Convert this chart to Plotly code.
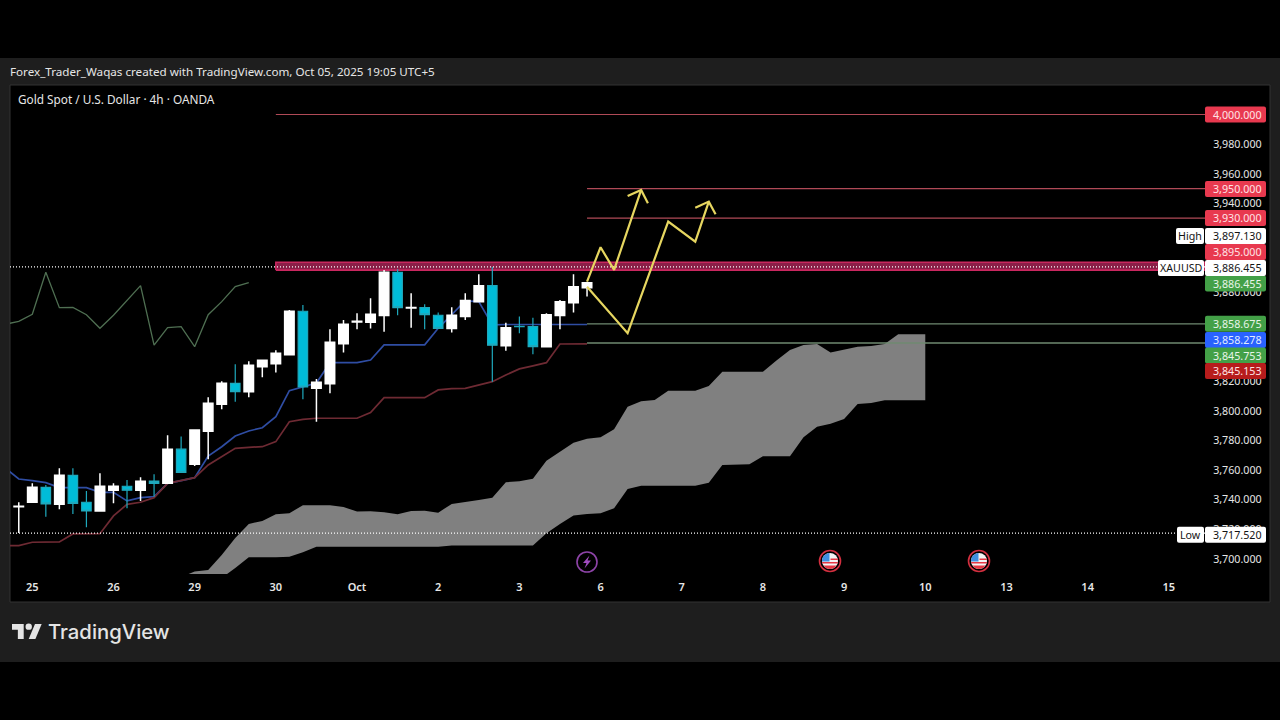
import math
import plotly.graph_objects as go

# --- Chart data -------------------------------------------------------------
bar_index = list(range(-1, 42))
opens = [3735.3, 3738.3, 3748.4, 3736.9, 3756.5, 3738.3, 3732.4, 3746.4, 3749.1, 3746.4, 3752.5,
         3751.1, 3774.1, 3763.9, 3786.2, 3804.4, 3818.6, 3812.9, 3829.8, 3831.8, 3837.9, 3867.2,
         3815.2, 3818.3, 3845.3, 3859.9, 3859.8, 3864.3, 3893.5, 3869.4, 3869.6, 3864.5, 3855.5,
         3863.6, 3873.7, 3884.5, 3844.0, 3857.0, 3856.8, 3843.3, 3864.3, 3873.0, 3883.1]
highs = [3738.3, 3751.1, 3750.0, 3761.2, 3761.2, 3745.9, 3757.9, 3751.1, 3753.3, 3755.2, 3757.2,
         3783.5, 3782.6, 3787.5, 3809.2, 3820.0, 3831.4, 3833.5, 3834.5, 3840.9, 3868.1, 3871.5,
         3821.5, 3855.1, 3861.3, 3865.9, 3876.0, 3895.1, 3895.5, 3879.4, 3871.9, 3866.3, 3869.9,
         3879.4, 3892.2, 3897.13, 3859.5, 3863.6, 3862.9, 3865.8, 3874.8, 3892.2, 3886.8]
lows = [3717.52, 3738.0, 3728.6, 3733.6, 3730.4, 3721.4, 3732.0, 3737.6, 3734.2, 3739.2, 3742.1,
        3750.8, 3758.2, 3762.8, 3767.3, 3801.1, 3806.2, 3809.2, 3822.7, 3825.8, 3837.6, 3807.8,
        3792.7, 3811.9, 3839.3, 3855.1, 3855.5, 3853.4, 3864.5, 3856.1, 3855.1, 3855.4, 3852.8,
        3861.3, 3873.4, 3819.7, 3840.6, 3852.4, 3838.2, 3843.0, 3855.1, 3866.3, 3877.1]
closes = [3735.6, 3748.4, 3737.2, 3756.5, 3737.6, 3732.4, 3749.1, 3749.1, 3746.4, 3752.5, 3751.1,
          3774.1, 3758.5, 3787.1, 3805.1, 3818.6, 3812.9, 3830.8, 3834.1, 3838.9, 3867.2, 3816.1,
          3819.3, 3846.3, 3858.4, 3860.4, 3865.2, 3893.5, 3869.6, 3869.8, 3864.9, 3855.7, 3864.5,
          3874.4, 3884.5, 3844.3, 3856.1, 3856.8, 3843.3, 3864.9, 3873.7, 3883.8, 3886.455]

line_index = list(range(-2, 42))
conversion_line = [3761.4, 3754.0, 3752.9, 3751.5, 3748.2, 3748.2, 3748.2, 3745.0, 3745.0, 3739.2, 3741.4,
                   3742.1, 3751.1, 3752.9, 3754.9, 3769.5, 3775.8, 3783.0, 3786.4, 3788.6, 3796.1, 3813.6,
                   3816.3, 3818.8, 3832.5, 3832.5, 3832.5, 3834.3, 3844.5, 3844.5, 3844.5, 3844.5, 3855.7,
                   3864.7, 3874.2, 3873.7, 3858.0, 3858.278, 3858.278, 3858.278, 3858.278, 3858.278,
                   3858.278, 3858.278]
base_line = [3709.0, 3709.0, 3711.3, 3711.3, 3711.5, 3716.9, 3716.9, 3717.1, 3729.1, 3736.9, 3738.3,
             3741.4, 3751.1, 3752.9, 3754.9, 3763.5, 3769.1, 3774.7, 3775.4, 3775.8, 3779.2, 3792.7,
             3794.3, 3795.0, 3795.0, 3795.0, 3795.0, 3798.8, 3808.9, 3808.9, 3808.9, 3808.9, 3814.1,
             3815.0, 3815.2, 3817.5, 3819.7, 3824.2, 3828.3, 3830.3, 3832.5, 3845.1, 3845.153, 3845.153]

lagging_index = list(range(-2, 17))
lagging_span = [3858.4, 3860.4, 3865.2, 3893.5, 3869.6, 3869.8, 3864.9, 3855.7, 3864.5, 3874.4,
                3884.5, 3844.3, 3856.1, 3856.8, 3843.3, 3864.9, 3873.7, 3883.8, 3886.455]

cloud_index = list(range(11, 67))
cloud_upper = [3687.9, 3691.5, 3692.6, 3702.7, 3714.2, 3723.7, 3725.7, 3730.2, 3730.9, 3736.3, 3736.3,
               3736.3, 3735.1, 3732.0, 3732.2, 3731.5, 3730.2, 3732.4, 3732.6, 3731.3, 3737.2, 3738.3,
               3739.8, 3741.4, 3751.8, 3752.5, 3754.2, 3766.4, 3772.4, 3778.5, 3781.2, 3782.2, 3787.6,
               3802.8, 3806.5, 3807.3, 3813.6, 3813.6, 3813.6, 3816.8, 3826.4, 3826.4, 3826.4, 3826.4,
               3833.9, 3841.1, 3844.5, 3845.1, 3839.3, 3841.1, 3843.3, 3843.8, 3845.1, 3851.7, 3851.7,
               3851.7]
cloud_lower = [3684.5, 3685.2, 3685.9, 3687.2, 3694.0, 3701.2, 3701.2, 3701.2, 3701.6, 3704.5, 3708.3,
               3708.3, 3708.3, 3708.3, 3708.3, 3708.3, 3708.3, 3708.3, 3708.3, 3708.3, 3709.1, 3709.1,
               3709.1, 3709.1, 3709.1, 3709.1, 3709.1, 3717.4, 3723.7, 3729.3, 3730.4, 3730.9, 3734.2,
               3747.3, 3749.5, 3749.5, 3749.5, 3749.5, 3749.5, 3751.5, 3763.5, 3763.5, 3763.9, 3769.4,
               3769.4, 3769.4, 3782.2, 3789.3, 3791.3, 3794.5, 3804.6, 3805.3, 3807.1, 3807.1, 3807.1,
               3807.1]

# Drawn projection paths and their arrow heads
path_a_index = [41, 42, 43, 45]
path_a_price = [3887.2, 3910.4, 3895.1, 3949.1]
head_a_index = [44, 45, 45.5]
head_a_price = [3945.0, 3949.1, 3940.1]
path_b_index = [41, 44, 47, 49, 50]
path_b_price = [3883.8, 3852.4, 3927.7, 3914.2, 3941.2]
head_b_index = [49, 50, 50.5]
head_b_price = [3937.1, 3941.2, 3932.7]

# Horizontal levels
target_start = [18, 41, 41]
target_levels = [4000.0, 3950.0, 3930.0]
cross_levels = [3858.675, 3845.753]
zone_start = 18
zone_low = 3895.0
zone_high = 3900.3
session_high = 3897.13
session_low = 3717.52

# Axis labels; prices hidden behind the scale tags are left out
day_ticks = list(range(0, 90, 6))
day_labels = ["25", "26", "29", "30", "Oct", "2", "3", "6", "7", "8", "9", "10", "13", "14", "15"]
price_ticks = [3700, 3720, 3740, 3760, 3780, 3800, 3820, 3880, 3940, 3960, 3980]

# Price scale tags: value, fill, text colour
tag_values = [4000.0, 3950.0, 3930.0, 3895.0, 3897.13, 3886.455, 3886.455,
              3858.675, 3858.278, 3845.753, 3845.153, 3717.52]
tag_fills = ["#e8394f", "#e8394f", "#e8394f", "#e8394f", "#ffffff", "#43a047", "#ffffff",
             "#43a047", "#2962ff", "#43a047", "#b71c1c", "#ffffff"]
tag_inks = ["#ffe3e6", "#ffe3e6", "#ffe3e6", "#ffe3e6", "#131313", "#e8f5e9", "#131313",
            "#e8f5e9", "#e3ecff", "#e8f5e9", "#ffe3e6", "#131313"]
tag_centers = [114.5, 189, 218, 252, 236, 283.5, 268, 323.7, 340, 355.5, 371, 534.7]

# --- Canvas geometry --------------------------------------------------------
W, H = 1280, 720
PLOT_L, PLOT_R, PLOT_T, PLOT_B = 10, 1205, 86, 574
BAR_X0, BAR_DX = 32.3, 13.53
PRICE_TOP_Y, PX_PER_USD = 114.5, 1.4817
FONT = "Noto Sans"


def fx(px):
    return px / W


def fy(py):
    return 1 - py / H


x_range = [(PLOT_L - BAR_X0) / BAR_DX, (PLOT_R - BAR_X0) / BAR_DX]
y_range = [4000 - (PLOT_B - PRICE_TOP_Y) / PX_PER_USD, 4000 + (PRICE_TOP_Y - PLOT_T) / PX_PER_USD]


def rect(x0, y0, x1, y1, fill, line=None, layer="below"):
    return dict(type="rect", xref="paper", yref="paper", x0=fx(x0), x1=fx(x1), y0=fy(y0), y1=fy(y1),
                fillcolor=fill, line=dict(color=line or fill, width=1 if line else 0), layer=layer)


def rounded(x0, y0, x1, y1, fill, r=2):
    p = (f"M{fx(x0 + r)},{fy(y0)} L{fx(x1 - r)},{fy(y0)} Q{fx(x1)},{fy(y0)} {fx(x1)},{fy(y0 + r)} "
         f"L{fx(x1)},{fy(y1 - r)} Q{fx(x1)},{fy(y1)} {fx(x1 - r)},{fy(y1)} "
         f"L{fx(x0 + r)},{fy(y1)} Q{fx(x0)},{fy(y1)} {fx(x0)},{fy(y1 - r)} "
         f"L{fx(x0)},{fy(y0 + r)} Q{fx(x0)},{fy(y0)} {fx(x0 + r)},{fy(y0)} Z")
    return dict(type="path", xref="paper", yref="paper", path=p, fillcolor=fill, line=dict(width=0), layer="above")


def circle(cx, cy, r, fill, line=None, width=0):
    return dict(type="circle", xref="paper", yref="paper", x0=fx(cx - r), x1=fx(cx + r), y0=fy(cy + r), y1=fy(cy - r),
                fillcolor=fill, line=dict(color=line or fill, width=width), layer="above")


def polygon(points, fill, width=0, line=None, close=True):
    p = "M" + " L".join(f"{fx(a)},{fy(b)}" for a, b in points) + (" Z" if close else "")
    return dict(type="path", xref="paper", yref="paper", path=p, fillcolor=fill,
                line=dict(color=line or fill, width=width), layer="above")


def flag_icon(cx, cy):
    """Round US flag marker used for economic events."""
    out = [circle(cx, cy, 10.5, "#000000", "#d32f3f", 1.6), circle(cx, cy, 8, "#f4f4f4")]
    r = 8
    for top, bottom in [(-2.6, -0.9), (0.9, 2.6), (4.4, 8)]:
        pts = []
        steps = 6
        for k in range(steps + 1):
            dy = top + (bottom - top) * k / steps
            pts.append((cx + math.sqrt(max(r * r - dy * dy, 0)), cy + dy))
        for k in range(steps, -1, -1):
            dy = top + (bottom - top) * k / steps
            pts.append((cx - (math.sqrt(max(r * r - dy * dy, 0)) if top > 0 else -0.5), cy + dy))
        out.append(polygon(pts, "#e53945"))
    canton = [(cx - 0.5, cy + 0.5)]
    for k in range(13):
        a = math.pi + (math.pi / 2 + 0.05) * k / 12 - 0.05
        canton.append((cx + r * math.cos(a), cy + r * math.sin(a)))
    canton.append((cx - 0.5, cy - r))
    out.append(polygon(canton, "#3f8fe0"))
    return out


# --- Traces -----------------------------------------------------------------
fig = go.Figure()

# Cloud between the two leading spans
fig.add_trace(go.Scatter(x=cloud_index + cloud_index[::-1], y=cloud_upper + cloud_lower[::-1], mode="lines",
                         fill="toself", fillcolor="#808080", line=dict(width=0), hoverinfo="skip"))
fig.add_trace(go.Scatter(x=lagging_index, y=lagging_span, mode="lines", line=dict(color="#4f6f52", width=1.3)))
fig.add_trace(go.Scatter(x=line_index, y=conversion_line, mode="lines", line=dict(color="#2f4da3", width=1.7)))
fig.add_trace(go.Scatter(x=line_index, y=base_line, mode="lines", line=dict(color="#6e2a33", width=1.7)))

# Resistance zone with its crimson frame
zone_x = [zone_start, x_range[1], x_range[1], zone_start, zone_start]
zone_y = [zone_low, zone_low, zone_high, zone_high, zone_low]
fig.add_trace(go.Scatter(x=zone_x, y=zone_y, mode="lines", fill="toself", fillcolor="#8a1f48",
                         line=dict(color="#c9275f", width=1.6)))

for start, level in zip(target_start, target_levels):
    fig.add_trace(go.Scatter(x=[start, x_range[1]], y=[level, level], mode="lines",
                             line=dict(color="#b04a57", width=1.2)))
for level in cross_levels:
    fig.add_trace(go.Scatter(x=[41, x_range[1]], y=[level, level], mode="lines",
                             line=dict(color="#6f8a70", width=1.4)))

# Price bars sit on an overlaid subplot so they cover the indicator lines
fig.add_trace(go.Candlestick(x=bar_index, open=opens, high=highs, low=lows, close=closes,
                             xaxis="x2", yaxis="y2", whiskerwidth=0,
                             increasing=dict(fillcolor="#ffffff", line=dict(color="#ffffff", width=1.5)),
                             decreasing=dict(fillcolor="#00bcd8", line=dict(color="#1fa9bd", width=1.2))))

for level in (session_high, session_low):
    fig.add_trace(go.Scatter(x=x_range, y=[level, level], mode="lines", xaxis="x2", yaxis="y2",
                             line=dict(color="#ffffff", width=1.3, dash="1px,2px")))

for xs, ys in [(path_a_index, path_a_price), (head_a_index, head_a_price),
               (path_b_index, path_b_price), (head_b_index, head_b_price)]:
    fig.add_trace(go.Scatter(x=xs, y=ys, mode="lines", xaxis="x2", yaxis="y2",
                             line=dict(color="#e6d660", width=2.2)))

# --- Frame, tags and icons --------------------------------------------------
shapes = [
    rect(0, 0, W, 58, "#000000"),
    rect(0, 662, W, H, "#000000"),
    rect(10, 85, 1270, 602, "#000000", "#333333"),
]
annotations = []


def label(x, y, text, size, color, anchor="left", weight=None, family=FONT):
    annotations.append(dict(x=fx(x), y=fy(y), xref="paper", yref="paper", text=text, showarrow=False,
                            xanchor=anchor, yanchor="middle", borderpad=0,
                            xshift=-2 if anchor == "left" else 0,
                            font=dict(family=family, size=size, color=color, weight=weight)))


for value, fill, ink, center in zip(tag_values, tag_fills, tag_inks, tag_centers):
    shapes.append(rounded(1205, center - 8, 1266, center + 8, fill))
    label(1237.5, center, f"{value:,.3f}", 10.7, ink, "center")

for name, x0, center in [("High", 1176, 236), ("XAUUSD", 1158, 268), ("Low", 1177, 534.7)]:
    shapes.append(rounded(x0, center - 8, 1204, center + 8, "#ffffff"))
    label((x0 + 1204) / 2, center, name, 10.7, "#131313", "center")

label(10.5, 71.5, "Forex_Trader_Waqas created with TradingView.com, Oct 05, 2025 19:05 UTC+5", 11.65, "#e6e6e6")
label(18.5, 99, "Gold Spot / U.S. Dollar · 4h · OANDA", 11.8, "#e6e6e6")

# Wordmark and logo in the footer
logo_x = lambda u: 12 + 0.836 * u
logo_y = lambda v: 624 + (v - 4) * 0.833
shapes.append(polygon([(logo_x(a), logo_y(b)) for a, b in
                       [(14, 22), (7, 22), (7, 11), (0, 11), (0, 4), (14, 4)]], "#e4e4e4"))
shapes.append(polygon([(logo_x(a), logo_y(b)) for a, b in
                       [(28, 22), (20, 22), (27.5, 4), (35.5, 4)]], "#e4e4e4"))
shapes.append(circle(logo_x(20), logo_y(7.2), 3.2, "#e4e4e4"))
label(49, 631, "TradingView", 20.3, "#e4e4e4", weight=500, family="Inter")

# Event markers on the time axis
shapes.append(circle(587, 562, 10, "#000000", "#8e44a8", 1.6))
shapes.append(polygon([(589.5, 555.5), (583, 563), (586.5, 563), (584.5, 568.5), (591, 560.5), (587.5, 560.5)],
                      "#a04cc0"))
shapes += flag_icon(830, 561)
shapes += flag_icon(979, 561)

axis_common = dict(showgrid=False, zeroline=False, showline=False)
fig.update_layout(
    width=W, height=H, margin=dict(l=0, r=0, t=0, b=0), autosize=False,
    paper_bgcolor="#1e1e1e", plot_bgcolor="rgba(0,0,0,0)", showlegend=False,
    boxgap=0.3, boxgroupgap=0, hovermode=False,
    shapes=shapes, annotations=annotations,
    font=dict(family=FONT, size=11, color="#e0e0e0"),
    xaxis=dict(domain=[fx(PLOT_L), fx(PLOT_R)], range=x_range, tickmode="array", tickvals=day_ticks,
               ticktext=day_labels, ticks="outside", ticklen=3, tickcolor="rgba(0,0,0,0)",
               tickfont=dict(family=FONT, size=11, color="#e6e6e6", weight=600), anchor="y",
               rangeslider=dict(visible=False), **axis_common),
    yaxis=dict(domain=[fy(PLOT_B), fy(PLOT_T)], range=y_range, side="right", tickmode="array",
               tickvals=price_ticks, tickformat=",.3f", ticks="outside", ticklen=5, tickcolor="rgba(0,0,0,0)",
               tickfont=dict(family=FONT, size=10.7, color="#e6e6e6"), anchor="x", **axis_common),
    xaxis2=dict(overlaying="x", range=x_range, visible=False, anchor="y2", rangeslider=dict(visible=False)),
    yaxis2=dict(overlaying="y", range=y_range, visible=False, anchor="x2"),
)

fig.write_html("out.html")
